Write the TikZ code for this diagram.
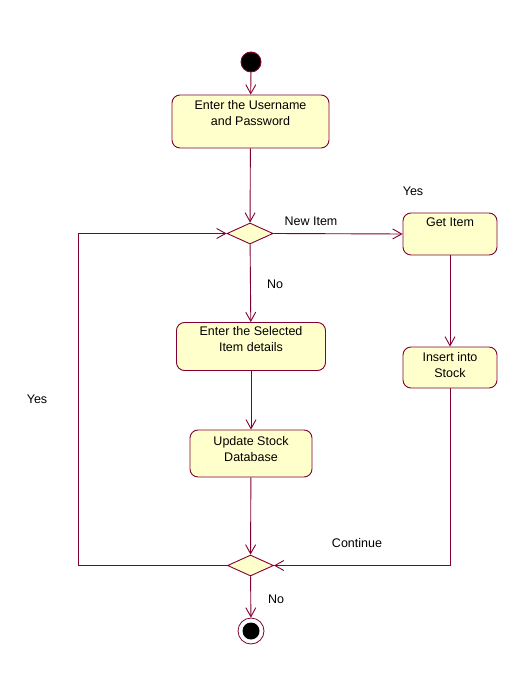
\documentclass[tikz,border=0pt]{standalone}
\usepackage{fontspec}
\setmainfont{Liberation Sans}
\usepackage{tikz}
\usetikzlibrary{shapes.geometric,arrows.meta}

\definecolor{roseline}{RGB}{128,0,51}
\definecolor{rosefill}{RGB}{255,255,204}

\begin{document}
\begin{tikzpicture}[x=1pt,y=-1pt,line width=0.9pt,
    >={Straight Barb[length=9pt,width=10pt,line width=0.9pt]}]
                \tikzstyle{every node}+=[font=\fontsize{12.5}{16}\selectfont]
                \tikzstyle{activity}=[draw=roseline,fill=rosefill,rounded corners=8pt,inner sep=0pt]
                \tikzstyle{caption}=[label distance=-5pt,anchor=north,align=center,inner sep=0pt]
                \tikzstyle{decision}=[draw=roseline,fill=rosefill,diamond,inner sep=0pt,
                    minimum width=46pt,minimum height=21pt]
                \tikzstyle{flow}=[draw=roseline,->]
                \useasboundingbox (0,0) rectangle (524,684);
                % start and end
                \node [circle,fill=black,draw=roseline,minimum size=20pt,inner sep=0pt] (start) at (251,62) {};
                \node [circle,draw=roseline,line width=0.8pt,minimum size=26pt,inner sep=0pt] (stop) at (251,631) {};
                \node [circle,fill=black,minimum size=17pt,inner sep=0pt] at (stop) {};
                % activities
                \node [activity,minimum width=157pt,minimum height=53pt,
                    label={[caption]north:Enter the Username\\and Password}] (login) at (250.5,121.5) {};
                \node [activity,minimum width=94pt,minimum height=42pt,
                    label={[caption]north:Get Item}] (getitem) at (450,234) {};
                \node [activity,minimum width=94pt,minimum height=41pt,
                    label={[caption]north:Insert into\\Stock}] (insert) at (450,367.5) {};
                \node [activity,minimum width=149pt,minimum height=48pt,
                    label={[caption,label distance=-4pt]north:Enter the Selected\\Item details}] (details) at (251,346.5) {};
                \node [activity,minimum width=122pt,minimum height=47pt,
                    label={[caption,label distance=-6pt]north:Update Stock\\Database}] (update) at (251,453.5) {};
                % decisions
                \node [decision] (check) at (250,233.5) {};
                \node [decision] (more) at (250.5,565.5) {};
                \coordinate (loopcorner) at (78,565.5);
                % flows
                \draw [flow] (start) -- (login);
                \draw [flow] (login) -- (check);
                \draw [flow] (check.east) -- (getitem.west);
                \draw [flow] (getitem) -- (insert);
                \draw [flow] (check) -- (details);
                \draw [flow] (details) -- (update);
                \draw [flow] (update) -- (more);
                \draw [flow] (insert.south) |- (more.east);
                \draw [flow] (more.west) -- (loopcorner) |- (check.west);
                \draw [flow] (more) -- (stop);
                % labels
                \node at (311,221) {New Item};
                \node at (413,191) {Yes};
                \node at (275,284) {No};
                \node at (37,399) {Yes};
                \node at (357,543) {Continue};
                \node at (276,599) {No};
\end{tikzpicture}
\end{document}
